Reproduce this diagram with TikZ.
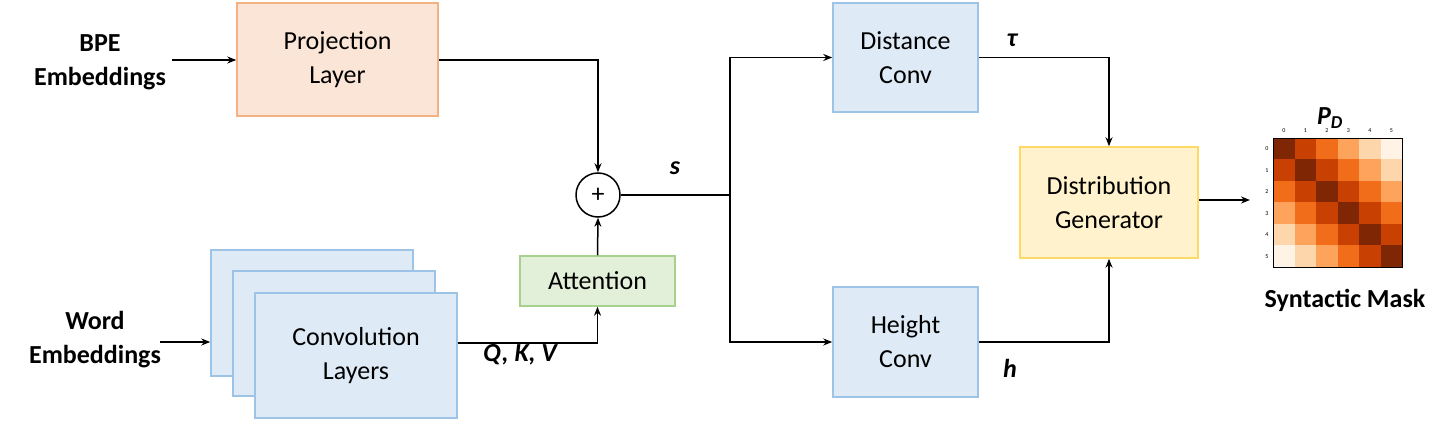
\documentclass[tikz,border=0pt]{standalone}
\usepackage{fontspec}
\setmainfont{Carlito}
\usetikzlibrary{arrows.meta,calc}
\definecolor{projfill}{HTML}{FBE5D6}\definecolor{projline}{HTML}{F4B183}
\definecolor{bluefill}{HTML}{DEEBF7}\definecolor{blueline}{HTML}{9DC3E6}
\definecolor{genfill}{HTML}{FFF2CC}\definecolor{genline}{HTML}{FFD966}
\definecolor{attfill}{HTML}{E2F0D9}\definecolor{attline}{HTML}{A9D18E}
\definecolor{hm0}{HTML}{7F2704}\definecolor{hm1}{HTML}{C84102}
\definecolor{hm2}{HTML}{F16D1A}\definecolor{hm3}{HTML}{FDA35C}
\definecolor{hm4}{HTML}{FDD6AB}\definecolor{hm5}{HTML}{FFF3E6}
\tikzset{
  blk/.style={draw, line width=1.5pt, align=center, inner sep=0pt},
  arr/.style={-{Stealth[length=9pt,width=7pt]}, line width=1.5pt},
  lbl/.style={font=\fontsize{26}{34}\selectfont\bfseries\itshape},
}
\begin{document}
\begin{tikzpicture}[x=1pt,y=-1pt,font=\fontsize{26}{34}\selectfont]
    \useasboundingbox (0,0) rectangle (1435,422);
    % blocks
    \node [blk, fill=projfill, draw=projline, minimum width=201pt, minimum height=113pt] (proj) at (337.5,59.5) {Projection\\Layer};
    \node [blk, fill=bluefill, draw=blueline, minimum width=202pt, minimum height=126pt] (convA) at (312,313) {};
    \node [blk, fill=bluefill, draw=blueline, minimum width=202pt, minimum height=125pt] (convB) at (334,333.5) {};
    \node [blk, fill=bluefill, draw=blueline, minimum width=202pt, minimum height=125pt] (conv) at (356,355.5) {Convolution\\Layers};
    \node [blk, fill=attfill, draw=attline, minimum width=155pt, minimum height=50pt] (att) at (597.5,281) {Attention};
    \node [draw, circle, line width=1.5pt, minimum size=44pt, inner sep=0pt] (plus) at (598,195) {+};
    \node [blk, fill=bluefill, draw=blueline, minimum width=145pt, minimum height=109pt] (dist) at (905.5,57.5) {Distance\\Conv};
    \node [blk, fill=bluefill, draw=blueline, minimum width=145pt, minimum height=110pt] (height) at (905.5,342) {Height\\Conv};
    \node [blk, fill=genfill, draw=genline, minimum width=178pt, minimum height=111pt] (gen) at (1109,202.5) {Distribution\\Generator};
    % inputs
    \node [align=center, font=\fontsize{26}{34}\selectfont\bfseries] (bpe) at (100,62) {BPE\\Embeddings};
    \node [align=center, font=\fontsize{26}{34}\selectfont\bfseries] (word) at (95,340) {Word\\Embeddings};
    \coordinate (bpeR) at (172,60);
    \coordinate (wordR) at (160,342);
    \coordinate (split) at (730,195);
    \draw [arr] (bpeR) -- (proj.west |- bpeR);
    \draw [arr] (wordR) -- (convA.west |- wordR);
    \draw [arr] (proj.east |- 0,60) -| (plus.north);
    \draw [arr] (conv.east |- 0,343) -| (att.south);
    \draw [arr] (att.north) -- (plus.south);
    \draw [line width=1.5pt] (plus.east) -- (split);
    \draw [arr] (split) |- (dist.west);
    \draw [arr] (split) |- (height.west);
    \draw [arr] (dist.east) -| (gen.north);
    \draw [arr] (height.east) -| (gen.south);
    \coordinate (hmIn) at (1250,200);
    \draw [arr] (gen.east |- hmIn) -- (hmIn);
    % labels
    \node [lbl] at (520,355) {Q, K, V};
    \node [lbl] at (675,168) {s};
    \node [lbl] at (1012,40) {τ};
    \node [lbl] at (1010,368) {h};
    % heatmap
    \foreach \i in {0,...,5} {
      \foreach \j in {0,...,5} {
        \pgfmathtruncatemacro{\d}{abs(\i-\j)}
        \fill [hm\d] (1273+21.5*\j,138+21.5*\i) rectangle ++(21.5,21.5);
      }
      \node [font=\fontsize{6}{7}\selectfont] at (1284+21.5*\i,131) {\i};
      \node [font=\fontsize{6}{7}\selectfont] at (1267,149+21.5*\i) {\i};
    }
    \draw [line width=0.4pt] (1273,138) rectangle (1402,267);
    \node [lbl] (pd) at (1330,118) {P\textsubscript{D}};
    \node [font=\fontsize{26}{34}\selectfont\bfseries] (mask) at (1345,300) {Syntactic Mask};
\end{tikzpicture}
\end{document}
